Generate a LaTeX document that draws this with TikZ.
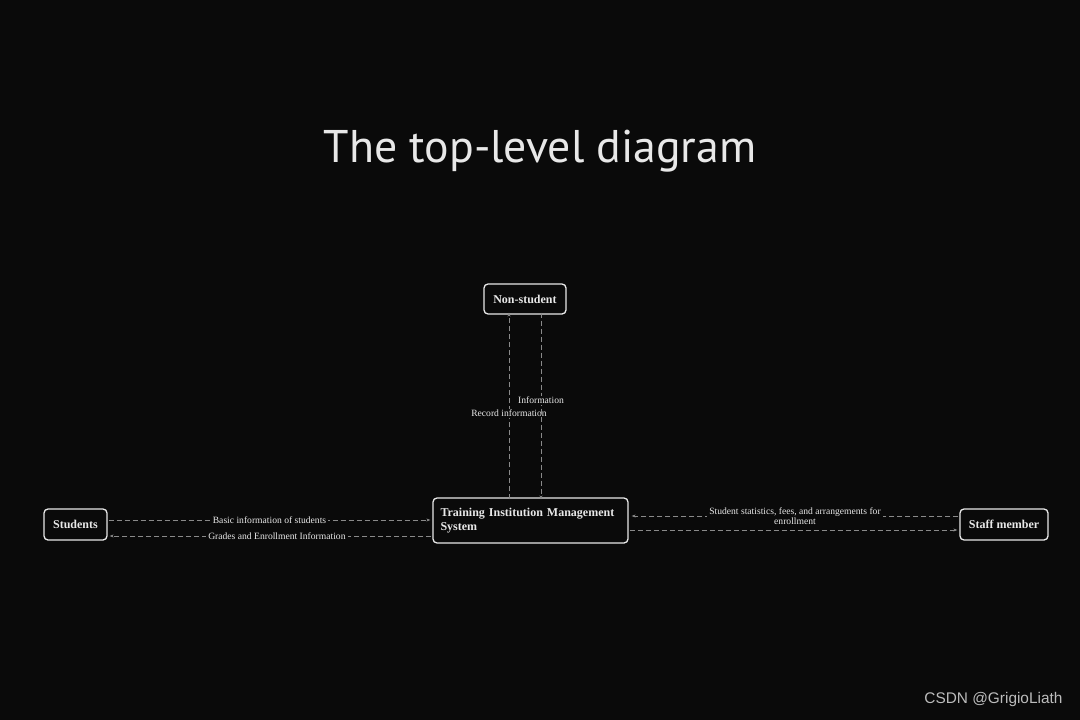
\documentclass[tikz,border=0pt]{standalone}
\usepackage{fontspec}
\setmainfont{Liberation Serif}
\newfontfamily\titlefont{PT Sans}
\newfontfamily\wmfont{Liberation Sans}
\usetikzlibrary{arrows.meta}
\definecolor{bg}{HTML}{0A0A0A}
\definecolor{fg}{HTML}{E8E8E8}
\definecolor{ln}{HTML}{8A8A8A}
\tikzset{
  entity/.style={draw=fg, line width=1.3pt, rounded corners=4pt, fill=bg, text=fg,
    font=\fontsize{12}{14}\selectfont\bfseries, inner xsep=7pt, inner ysep=6pt},
  flow/.style={draw=ln, line width=0.8pt, dash pattern=on 5pt off 3pt,
    -{Stealth[length=4pt,width=3pt]}},
  flowlabel/.style={fill=bg, text=fg, font=\fontsize{9.6}{10.5}\selectfont,
    inner xsep=2pt, inner ysep=1pt, align=center}
}
\begin{document}
\begin{tikzpicture}[x=1pt,y=-1pt]
\fill[bg] (0,0) rectangle (1080,720);
\useasboundingbox (0,0) rectangle (1080,720);
\node[text=fg, font=\titlefont\fontsize{45.8}{50}\selectfont] (title) at (540,151) {The top-level diagram};
\node[entity, minimum width=82pt, minimum height=30pt] (non) at (525,299) {Non-student};
\node[entity, minimum width=195pt, minimum height=45pt, align=left, text width=180pt] (sys) at (530.5,520.5) {Training Institution Management\\System};
\node[entity, minimum width=63pt, minimum height=31pt] (stu) at (75.5,524.5) {Students};
\node[entity, minimum width=88pt, minimum height=31pt] (staff) at (1004,524.5) {Staff member};
\coordinate (a1) at (stu.east |- 0,520);
\coordinate (a2) at (sys.west |- 0,520);
\coordinate (b1) at (sys.west |- 0,536);
\coordinate (b2) at (stu.east |- 0,536);
\draw[flow] ([xshift=1pt]a1) -- node[flowlabel] {Basic information of students} ([xshift=-2pt]a2);
\draw[flow] ([xshift=-1pt]b1) -- node[flowlabel, pos=0.48] {Grades and Enrollment Information} ([xshift=2pt]b2);
\coordinate (c1) at (staff.west |- 0,516);
\coordinate (c2) at (sys.east |- 0,516);
\coordinate (d1) at (sys.east |- 0,530);
\coordinate (d2) at (staff.west |- 0,530);
\draw[flow] ([xshift=-1pt]c1) -- node[flowlabel] {Student statistics, fees, and arrangements for\\enrollment} ([xshift=3pt]c2);
\draw[flow] ([xshift=1pt]d1) -- ([xshift=-2pt]d2);
\coordinate (e1) at (sys.north -| 509,0);
\coordinate (e2) at (non.south -| 509,0);
\coordinate (f1) at (non.south -| 541,0);
\coordinate (f2) at (sys.north -| 541,0);
\draw[flow] ([yshift=-2pt]e1) -- node[flowlabel, pos=0.46] {Record information} ([yshift=2pt]e2);
\draw[flow] ([yshift=2pt]f1) -- node[flowlabel, pos=0.47] {Information} ([yshift=-2pt]f2);
\node[text=fg!80!bg, font=\wmfont\fontsize{15.4}{17}\selectfont, anchor=east] (wm) at (1066,700) {CSDN @GrigioLiath};
\end{tikzpicture}
\end{document}
